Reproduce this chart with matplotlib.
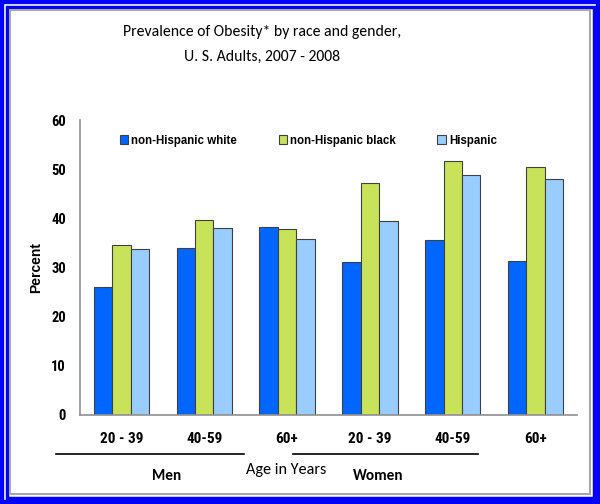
import matplotlib.pyplot as plt
from matplotlib.patches import Rectangle
import numpy as np

# Data
age_groups = ['20 - 39', '40-59', '60+', '20 - 39', '40-59', '60+']
series_names = ['non-Hispanic white', 'non-Hispanic black', 'Hispanic']
nh_white = [26.1, 33.9, 38.3, 31.2, 35.6, 31.3]
nh_black = [34.5, 39.6, 37.8, 47.1, 51.6, 50.5]
hispanic = [33.7, 38.1, 35.8, 39.5, 48.8, 48.0]
colors = ['#0066FF', '#C8E35A', '#99CCFF']

title_font = ['Carlito', 'DejaVu Sans']
tick_font = ['Roboto Condensed', 'DejaVu Sans']
label_font = ['Liberation Sans', 'DejaVu Sans']

fig = plt.figure(figsize=(6, 5.04), dpi=100)
fig.patch.set_facecolor('white')

# Double blue frame with gray inner line
fig.patches.append(Rectangle((0, 0), 1, 1, transform=fig.transFigure, fill=False,
                             edgecolor='#0000FF', linewidth=6, zorder=10))
fig.patches.append(Rectangle((6.5/600, 6.5/504), 1 - 13/600, 1 - 13/504, transform=fig.transFigure,
                             fill=False, edgecolor='#0000FF', linewidth=2.5, zorder=10))
fig.patches.append(Rectangle((10/600, 10/504), 1 - 20/600, 1 - 20/504, transform=fig.transFigure,
                             fill=False, edgecolor='#A8A8A8', linewidth=1.5, zorder=10))

ax = fig.add_axes([0.1333, 0.1766, 0.8284, 0.5853])

x = np.arange(len(age_groups))
w = 0.222
for i, (vals, name, c) in enumerate(zip([nh_white, nh_black, hispanic], series_names, colors)):
    ax.bar(x + (i - 1) * w, vals, width=w, color=c, edgecolor='#404040', linewidth=0.8, label=name)

ax.set_xlim(-0.5, len(age_groups) - 0.5)
ax.set_ylim(0, 60)
ax.set_yticks(range(0, 61, 10))
ax.set_xticks(x)
ax.set_xticklabels(age_groups, family=tick_font, fontweight='bold', fontsize=11)
ax.tick_params(axis='x', length=0, pad=12)
ax.tick_params(axis='y', length=0, pad=10)
for lbl in ax.get_yticklabels():
    lbl.set_family(tick_font)
    lbl.set_fontweight('bold')
    lbl.set_fontsize(10.5)

for s in ['top', 'right']:
    ax.spines[s].set_visible(False)
for s in ['left', 'bottom']:
    ax.spines[s].set_color('#909090')
    ax.spines[s].set_linewidth(1.2)

ax.set_ylabel('Percent', family=label_font, fontweight='bold', fontsize=10)
ax.yaxis.set_label_coords(-0.074, 0.5)

leg = ax.legend(loc='center left', bbox_to_anchor=(0.08, 0.93), ncol=3, frameon=False,
                prop={'family': label_font, 'weight': 'bold', 'size': 8.3},
                handlelength=0.75, handleheight=0.75, handletextpad=0.25, columnspacing=3.6,
                borderpad=0, borderaxespad=0)

# Group lines and labels under the axis
trans = ax.get_xaxis_transform()
ax.plot([-0.79, 1.48], [-0.132, -0.132], color='black', linewidth=1.2, transform=trans, clip_on=False)
ax.plot([2.07, 4.31], [-0.132, -0.132], color='black', linewidth=1.2, transform=trans, clip_on=False)
ax.text(0.54, -0.208, 'Men', transform=trans, ha='center', va='center',
        family=title_font, fontweight='bold', fontsize=11)
ax.text(3.1, -0.208, 'Women', transform=trans, ha='center', va='center',
        family=title_font, fontweight='bold', fontsize=11)
ax.text(1.99, -0.187, 'Age in Years', transform=trans, ha='center', va='center',
        family=title_font, fontsize=11.7)

fig.text(0.437, 0.937, 'Prevalence of Obesity* by race and gender,', ha='center', va='center',
         family=title_font, fontsize=11.3)
fig.text(0.437, 0.887, 'U. S. Adults, 2007 - 2008', ha='center', va='center',
         family=title_font, fontsize=11.3)

plt.savefig('out.png', dpi=100)
plt.close()
